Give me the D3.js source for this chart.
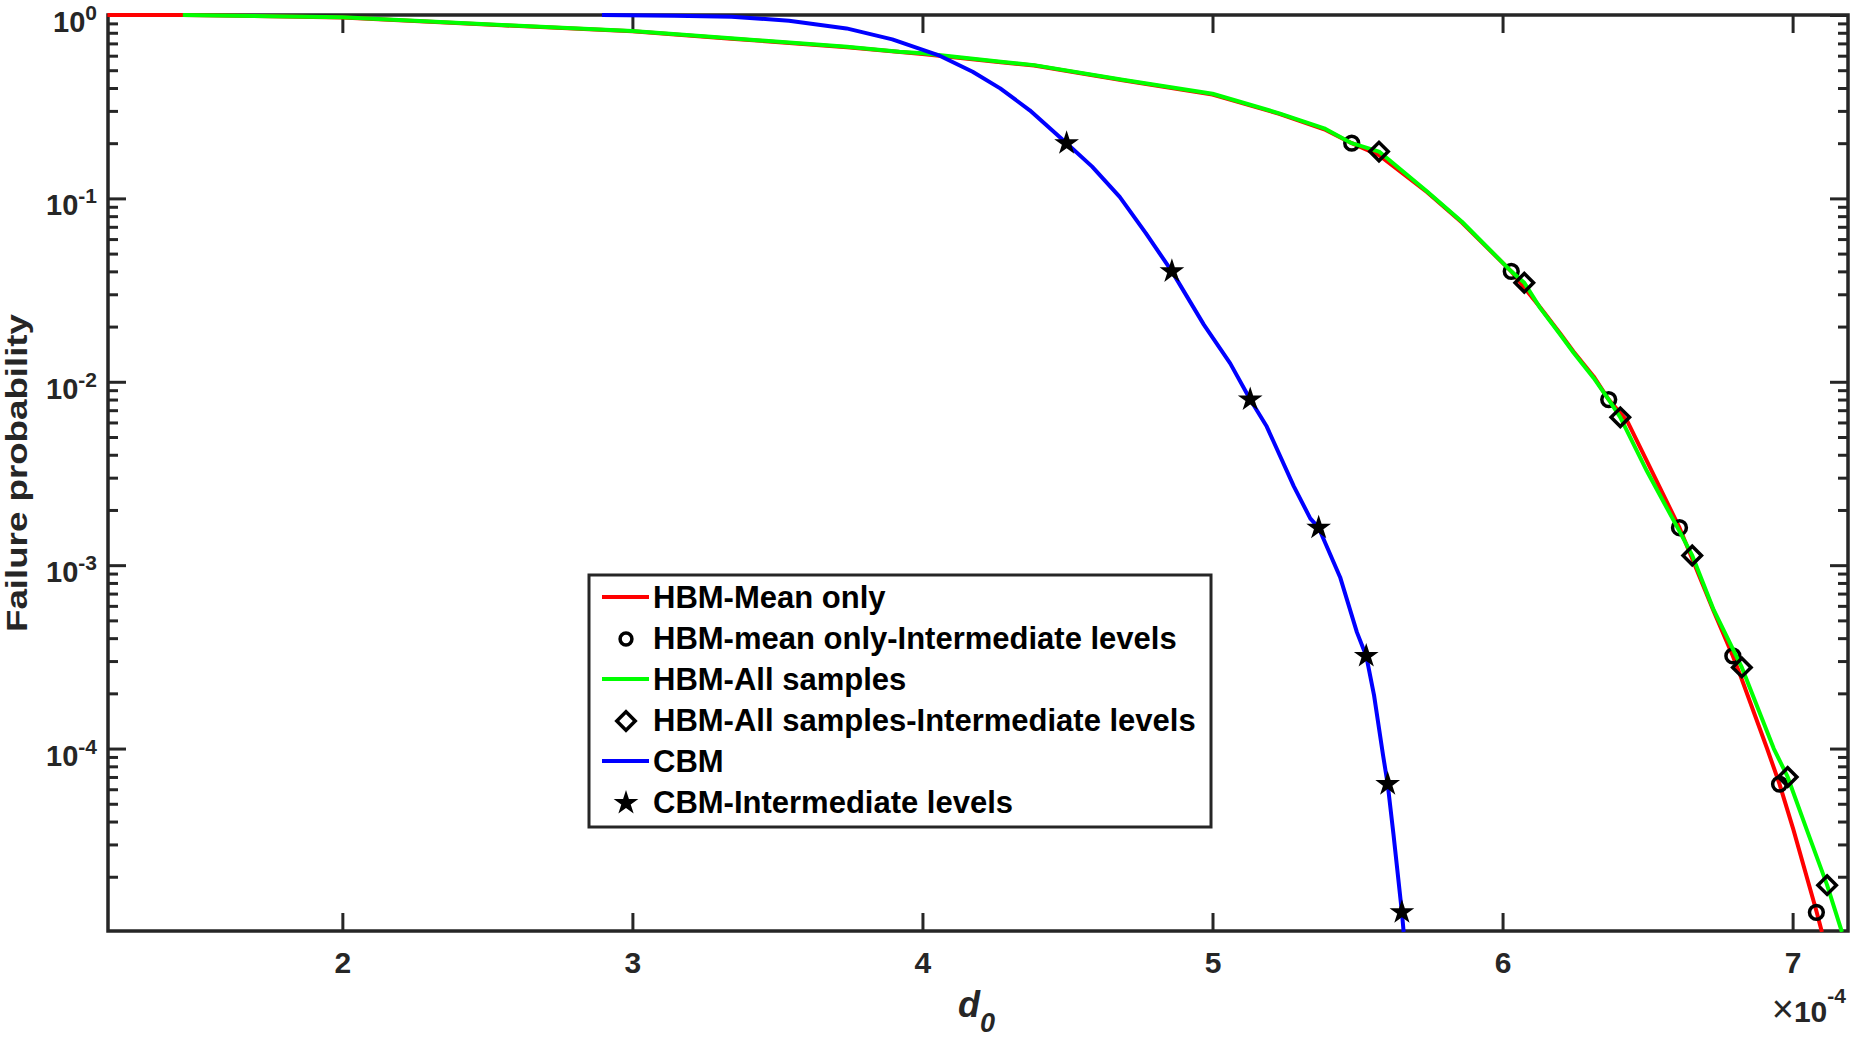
<!DOCTYPE html>
<html>
<head>
<meta charset="utf-8">
<script src="https://cdn.jsdelivr.net/npm/d3@7"></script>
<style>
  body { margin: 0; background: #fff; }
  text { font-family: 'Liberation Sans', Arial, sans-serif; font-weight: bold; fill: #262626; }
</style>
</head>
<body>
<div id="failure-chart"></div>
<script>
/* global d3 */

// d0 values are in units of 1e-4
const xTicks = [2, 3, 4, 5, 6, 7];
const yTicks = [1e-4, 1e-3, 1e-2, 1e-1, 1];
const yTickExponents = ['-4', '-3', '-2', '-1', '0'];

const hbmMeanLine = [
  [1.19, 1], [1.45, 1], [2.0, 0.970], [2.55, 0.879], [3.0, 0.815], [3.34, 0.743],
  [3.74, 0.667], [4.0, 0.613], [4.27, 0.553], [4.385, 0.530], [4.69, 0.441],
  [5.0, 0.368], [5.23, 0.289], [5.385, 0.238], [5.48, 0.2], [5.574, 0.172],
  [5.74, 0.108], [5.86, 0.0738], [6.03, 0.040], [6.13, 0.0254], [6.2, 0.0182],
  [6.245, 0.0146], [6.314, 0.0107], [6.366, 0.008], [6.43, 0.0061], [6.515, 0.00325],
  [6.61, 0.0016], [6.728, 0.00056], [6.794, 0.00032], [6.82, 0.00025],
  [6.912, 1.0e-4], [6.955, 6.4e-5], [7.003, 3.6e-5], [7.082, 1.3e-5], [7.101, 1.0e-5]
];
const hbmMeanLevels = [
  [5.48, 0.2], [6.03, 0.04], [6.366, 0.008], [6.61, 0.0016],
  [6.794, 0.00032], [6.955, 0.000064], [7.082, 0.0000128]
];

const hbmAllLine = [
  [1.45, 1], [2.0, 0.972], [2.55, 0.882], [3.0, 0.818], [3.34, 0.746], [3.74, 0.671],
  [3.92, 0.631], [4.0, 0.618], [4.27, 0.556], [4.385, 0.533], [4.69, 0.443],
  [5.0, 0.372], [5.23, 0.291], [5.385, 0.241], [5.48, 0.2], [5.574, 0.18],
  [5.74, 0.109], [5.86, 0.0746], [6.03, 0.040], [6.075, 0.0347], [6.13, 0.0252],
  [6.2, 0.018], [6.245, 0.0144], [6.314, 0.0105], [6.366, 0.008], [6.406, 0.0064],
  [6.498, 0.00325], [6.613, 0.0015], [6.654, 0.00113], [6.728, 0.00057],
  [6.825, 0.000277], [6.935, 1.0e-4], [6.983, 7.0e-5], [7.05, 3.57e-5],
  [7.119, 1.8e-5], [7.17, 1.0e-5]
];
const hbmAllLevels = [
  [5.574, 0.18], [6.075, 0.0347], [6.406, 0.0064], [6.654, 0.00113],
  [6.825, 0.000277], [6.983, 0.00007], [7.119, 0.000018]
];

const cbmLine = [
  [2.895, 1], [3.144, 0.991], [3.342, 0.979], [3.54, 0.931], [3.738, 0.845],
  [3.896, 0.736], [4.054, 0.605], [4.173, 0.49], [4.268, 0.398], [4.37, 0.302],
  [4.497, 0.2], [4.585, 0.149], [4.68, 0.102], [4.77, 0.0646], [4.86, 0.04],
  [4.97, 0.0205], [5.061, 0.0126], [5.13, 0.008], [5.187, 0.0057], [5.28, 0.0027],
  [5.337, 0.0018], [5.366, 0.0016], [5.44, 0.00086], [5.498, 0.00043], [5.53, 0.00032],
  [5.557, 0.000195], [5.588, 0.000092], [5.604, 0.000064], [5.624, 0.000034],
  [5.653, 0.0000128], [5.659, 0.00001]
];
const cbmLevels = [
  [4.497, 0.2], [4.86, 0.04], [5.13, 0.008], [5.366, 0.0016],
  [5.53, 0.00032], [5.604, 0.000064], [5.653, 0.0000128]
];

const legendLabels = [
  'HBM-Mean only', 'HBM-mean only-Intermediate levels', 'HBM-All samples',
  'HBM-All samples-Intermediate levels', 'CBM', 'CBM-Intermediate levels'
];

const axisColor = '#262626';

function drawChart() {
  const width = 1850;
  const height = 1038;
  const plot = { left: 108, right: 1848, top: 15, bottom: 931 };

  const svg = d3.select('#failure-chart').append('svg')
    .attr('width', width)
    .attr('height', height);

  const xScale = d3.scaleLinear()
    .domain([1.192, 7.191])
    .range([plot.left, plot.right]);

  const yScale = d3.scaleLog()
    .domain([1.012e-5, 1])
    .range([plot.bottom, plot.top]);

  // minor ticks 2..9 in every decade
  const minorTicks = [];
  for (let e = -5; e < 0; e += 1) {
    for (let m = 2; m <= 9; m += 1) {
      const v = m * Math.pow(10, e);
      if (v > yScale.domain()[0]) minorTicks.push(v);
    }
  }

  const axes = svg.append('g').attr('class', 'axes');

  const addAxis = (axis, transform) => {
    const g = axes.append('g')
      .attr('transform', transform)
      .call(axis);
    g.select('.domain').remove();
    g.selectAll('.tick line')
      .style('stroke', axisColor)
      .style('stroke-width', 3);
    return g;
  };

  addAxis(d3.axisBottom(xScale).tickValues(xTicks).tickSizeInner(-18).tickSizeOuter(0)
    .tickFormat(d3.format('d')), `translate(0,${plot.bottom})`)
    .selectAll('.tick text')
    .attr('y', 42)
    .attr('dy', 0)
    .style('font-size', '30px')
    .style('font-family', "'Liberation Sans', Arial, sans-serif")
    .style('fill', axisColor);

  addAxis(d3.axisTop(xScale).tickValues(xTicks).tickSizeInner(-18).tickSizeOuter(0).tickFormat(''),
    `translate(0,${plot.top})`);

  addAxis(d3.axisLeft(yScale).tickValues(yTicks).tickSizeInner(-18).tickSizeOuter(0).tickFormat(''),
    `translate(${plot.left},0)`);
  addAxis(d3.axisLeft(yScale).tickValues(minorTicks).tickSizeInner(-10).tickSizeOuter(0).tickFormat(''),
    `translate(${plot.left},0)`);
  addAxis(d3.axisRight(yScale).tickValues(yTicks).tickSizeInner(-18).tickSizeOuter(0).tickFormat(''),
    `translate(${plot.right},0)`);
  addAxis(d3.axisRight(yScale).tickValues(minorTicks).tickSizeInner(-10).tickSizeOuter(0).tickFormat(''),
    `translate(${plot.right},0)`);

  axes.append('rect')
    .attr('x', plot.left)
    .attr('y', plot.top)
    .attr('width', plot.right - plot.left)
    .attr('height', plot.bottom - plot.top)
    .style('fill', 'none')
    .style('stroke', axisColor)
    .style('stroke-width', 3.5);

  // y tick labels 10^n
  const yLabels = axes.append('g').attr('class', 'yTickLabels');
  yTicks.forEach((v, i) => {
    const t = yLabels.append('text')
      .attr('x', 97)
      .attr('y', yScale(v) + 17)
      .style('text-anchor', 'end')
      .style('font-size', '29px');
    t.append('tspan').text('10');
    t.append('tspan')
      .attr('dy', -12)
      .style('font-size', '21px')
      .text(yTickExponents[i]);
  });

  // x multiplier
  const mult = axes.append('text')
    .attr('x', 1846)
    .attr('y', 1022)
    .style('text-anchor', 'end')
    .style('font-size', '30px');
  mult.append('tspan').style('font-weight', 'normal').style('font-size', '38px').text('\u00d7');
  mult.append('tspan').text('10');
  mult.append('tspan').attr('dy', -19).style('font-size', '21px').text('-4');

  // axis titles
  const xTitle = svg.append('text')
    .attr('x', 958)
    .attr('y', 1017)
    .style('font-size', '36px')
    .style('font-style', 'italic');
  xTitle.append('tspan').text('d');
  xTitle.append('tspan').attr('dy', 15).style('font-size', '27px').text('0');

  svg.append('text')
    .attr('transform', `translate(27,${(plot.top + plot.bottom) / 2}) rotate(-90)`)
    .style('text-anchor', 'middle')
    .style('font-size', '30px')
    .attr('textLength', 318)
    .attr('lengthAdjust', 'spacingAndGlyphs')
    .text('Failure probability');

  // data
  svg.append('clipPath')
    .attr('id', 'plot-clip')
    .append('rect')
    .attr('x', plot.left - 3)
    .attr('y', plot.top - 3)
    .attr('width', plot.right - plot.left + 6)
    .attr('height', plot.bottom - plot.top + 4);

  const dataGroup = svg.append('g')
    .attr('class', 'dataGroup')
    .attr('clip-path', 'url(#plot-clip)');

  const line = d3.line()
    .x((d) => xScale(d[0]))
    .y((d) => yScale(d[1]));

  const drawLine = (data, color) => {
    dataGroup.append('path')
      .datum(data)
      .attr('d', line)
      .style('fill', 'none')
      .style('stroke', color)
      .style('stroke-width', 4)
      .style('stroke-linejoin', 'round');
  };

  const circleSym = d3.symbol().type(d3.symbolCircle).size(150);
  const diamondSym = d3.symbol().type(d3.symbolSquare).size(170);
  const starSym = d3.symbol().type(d3.symbolStar).size(190);

  const drawMarkers = (data, kind) => {
    dataGroup.append('g')
      .selectAll('path')
      .data(data)
      .enter()
      .append('path')
      .attr('transform', (d) => `translate(${xScale(d[0])},${yScale(d[1])})${kind === 'diamond' ? ' rotate(45)' : ''}`)
      .attr('d', kind === 'circle' ? circleSym() : kind === 'diamond' ? diamondSym() : starSym())
      .style('fill', kind === 'star' ? '#000' : 'none')
      .style('stroke', '#000')
      .style('stroke-width', kind === 'star' ? 0 : 3.5);
  };

  drawLine(hbmMeanLine, '#ff0000');
  drawMarkers(hbmMeanLevels, 'circle');
  drawLine(hbmAllLine, '#00ff00');
  drawMarkers(hbmAllLevels, 'diamond');
  drawLine(cbmLine, '#0000ff');
  drawMarkers(cbmLevels, 'star');

  // legend
  const legend = svg.append('g').attr('class', 'legend');
  legend.append('rect')
    .attr('x', 589)
    .attr('y', 575)
    .attr('width', 622)
    .attr('height', 252)
    .style('fill', '#fff')
    .style('stroke', axisColor)
    .style('stroke-width', 3);

  const legendKinds = [
    { line: '#ff0000' }, { marker: 'circle' }, { line: '#00ff00' },
    { marker: 'diamond' }, { line: '#0000ff' }, { marker: 'star' }
  ];

  legendLabels.forEach((label, i) => {
    const baseline = 608 + i * 41;
    const kind = legendKinds[i];
    if (kind.line) {
      legend.append('line')
        .attr('x1', 602)
        .attr('x2', 649)
        .attr('y1', baseline - 11)
        .attr('y2', baseline - 11)
        .style('stroke', kind.line)
        .style('stroke-width', 4);
    } else {
      const sym = kind.marker === 'circle' ? circleSym : kind.marker === 'diamond' ? diamondSym : starSym;
      legend.append('path')
        .attr('transform', `translate(626,${baseline - 10})${kind.marker === 'diamond' ? ' rotate(45)' : ''}`)
        .attr('d', kind.marker === 'circle' ? d3.symbol().type(d3.symbolCircle).size(110)() : sym())
        .style('fill', kind.marker === 'star' ? '#000' : 'none')
        .style('stroke', '#000')
        .style('stroke-width', kind.marker === 'star' ? 0 : 3.5);
    }
    legend.append('text')
      .attr('x', 653)
      .attr('y', baseline)
      .style('font-size', '31px')
      .style('fill', '#000')
      .text(label);
  });
}

drawChart();
</script>
</body>
</html>
